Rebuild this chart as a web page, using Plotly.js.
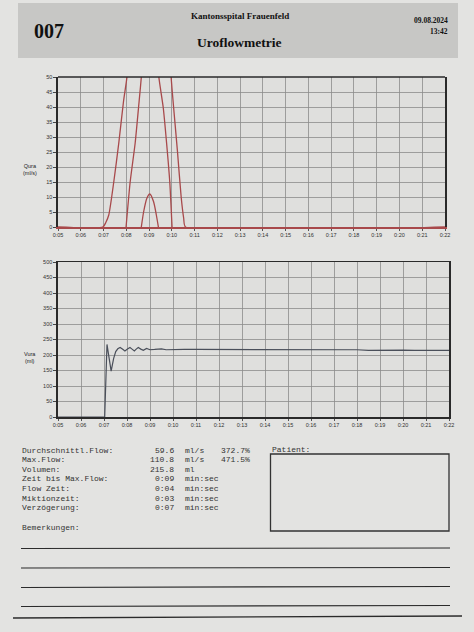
<!DOCTYPE html>
<html>
<head>
<meta charset="utf-8">
<script src="https://cdn.plot.ly/plotly-3.0.1.min.js"></script>
<style>html,body{margin:0;padding:0;background:#e3e3e1;}#chart{width:474px;height:632px;}</style>
</head>
<body>
<div id="chart"></div>
<script>
// ---- data ----
const timeTicks = [5,6,7,8,9,10,11,12,13,14,15,16,17,18,19,20,21,22];
const timeLabels = ["0:05","0:06","0:07","0:08","0:09","0:10","0:11","0:12","0:13","0:14","0:15","0:16","0:17","0:18","0:19","0:20","0:21","0:22"];

// flow (ml/s) segments as printed (display range 0..50, the rest is clipped)
const flowRiseT = [5, 6.97, 7.1, 7.23, 7.45, 7.67, 7.88, 8.03, 8.08];
const flowRiseV = [0, 0, 1.5, 4, 15, 28, 42, 50, 56];
const flowSecondT = [7.99, 8.17, 8.39, 8.54, 8.66, 8.7];
const flowSecondV = [0, 15, 28, 40, 50, 56];
const flowHumpT = [8.66, 8.76, 8.9, 9.03, 9.2, 9.32, 9.41];
const flowHumpV = [0, 5, 9.5, 11, 8.4, 4, 0];
const flowFallT = [9.4, 9.43, 9.62, 9.77, 9.91, 10.01];
const flowFallV = [56, 50, 40, 28, 15, 0];
const flowLastT = [9.95, 9.97, 10.1, 10.25, 10.41, 10.52, 10.6, 22];
const flowLastV = [56, 50, 38, 25, 10, 3, 0, 0];

// volume (ml)
const volT = [5, 7.03, 7.13, 7.2, 7.31, 7.42, 7.51, 7.6, 7.7, 7.8, 7.91, 8.02, 8.13, 8.22, 8.32, 8.4, 8.49, 8.6, 8.71, 8.85, 9.0, 9.2, 9.5, 9.7, 10, 10.5, 11, 12, 13, 14, 15, 16, 17, 18, 18.5, 19, 19.5, 20, 20.5, 21, 22];
const volV = [0, 0, 234, 205, 148, 189, 211, 220, 224, 219, 213, 219, 224, 219, 213, 219, 224, 219, 215, 221, 217, 218, 220, 217, 218, 218, 218, 218, 217, 217, 217, 218, 217, 217, 215, 216, 215, 216, 215, 215, 215];

// report text
const statLabels = ["Durchschnittl.Flow:", "Max.Flow:", "Volumen:", "Zeit bis Max.Flow:", "Flow Zeit:", "Miktionzeit:", "Verzögerung:"];
const statValues = ["59.6", "110.8", "215.8", "0:09", "0:04", "0:03", "0:07"];
const statUnits = ["ml/s", "ml/s", "ml", "min:sec", "min:sec", "min:sec", "min:sec"];
const statPercents = ["372.7%", "471.5%", "", "", "", "", ""];

// ---- helpers ----
const W = 474, H = 632;
const px = x => x / W;
const py = y => 1 - y / H;

function seg(t, v) { return {t, v}; }
const segs = [seg(flowRiseT, flowRiseV), seg(flowSecondT, flowSecondV), seg(flowHumpT, flowHumpV), seg(flowFallT, flowFallV), seg(flowLastT, flowLastV)];
let fx = [], fy = [];
segs.forEach((s, i) => { if (i) { fx.push(null); fy.push(null); } fx = fx.concat(s.t); fy = fy.concat(s.v); });

const flowColor = "#a8494b";
const traces = [
  {x: fx, y: fy, xaxis: "x", yaxis: "y", mode: "lines", connectgaps: false,
   line: {color: flowColor, width: 1.3, shape: "spline", smoothing: 0.6}, hoverinfo: "none"},
  {x: volT, y: volV, xaxis: "x2", yaxis: "y2", mode: "lines",
   line: {color: "#4a4f5a", width: 1.2}, hoverinfo: "none"}
];

const tickFont = {family: "Liberation Sans, Arial, sans-serif", size: 5.5, color: "#333"};
const gridColor = "#8c8c8c";
function xax(domain, anchor, lineColor) {
  return {domain, anchor, range: [5, 22], tickvals: timeTicks, ticktext: timeLabels,
    showgrid: true, gridcolor: gridColor, gridwidth: 0.8, zeroline: false,
    showline: true, linecolor: lineColor, linewidth: 1.5, mirror: false,
    ticks: "outside", ticklen: 2, tickcolor: "#555", tickfont: tickFont, layer: "below traces"};
}
function yax(domain, anchor, range, dtick) {
  return {domain, anchor, range, dtick, tick0: 0,
    showgrid: true, gridcolor: gridColor, gridwidth: 0.8, zeroline: false,
    showline: true, linecolor: "#2a2a2a", linewidth: 1.6, mirror: true,
    ticks: "outside", ticklen: 3, tickcolor: "#444", tickfont: tickFont, layer: "below traces"};
}

const serif = "Liberation Serif, Times New Roman, serif";
const mono = "Liberation Mono, Courier New, monospace";
const annotations = [
  {text: "<b>007</b>", x: px(33), y: py(31), xanchor: "left", yanchor: "middle", font: {family: serif, size: 20, color: "#111"}},
  {text: "<b>Kantonsspital Frauenfeld</b>", x: px(240), y: py(16), xanchor: "center", yanchor: "middle", font: {family: serif, size: 9, color: "#111"}},
  {text: "<b>Uroflowmetrie</b>", x: px(239), y: py(42), xanchor: "center", yanchor: "middle", font: {family: serif, size: 13.5, color: "#111"}},
  {text: "<b>09.08.2024</b>", x: px(449), y: py(20.5), xanchor: "right", yanchor: "middle", font: {family: serif, size: 7.5, color: "#111"}},
  {text: "<b>13:42</b>", x: px(449), y: py(31.5), xanchor: "right", yanchor: "middle", font: {family: serif, size: 7.5, color: "#111"}},
  {text: "Qura<br>(ml/s)", x: px(30), y: py(169), xanchor: "center", yanchor: "middle", font: {family: "Liberation Sans, Arial, sans-serif", size: 5.5, color: "#222"}},
  {text: "Vura<br>(ml)", x: px(30), y: py(357), xanchor: "center", yanchor: "middle", font: {family: "Liberation Sans, Arial, sans-serif", size: 5.5, color: "#222"}},
  {text: "Patient:", x: px(270.5), y: py(449.5), xanchor: "left", yanchor: "middle", font: {family: mono, size: 8, color: "#333"}},
  {text: "Bemerkungen:", x: px(21), y: py(527), xanchor: "left", yanchor: "middle", font: {family: mono, size: 8, color: "#333"}}
];
statLabels.forEach((lab, i) => {
  const yy = py(450 + 9.6 * i);
  annotations.push({text: lab, x: px(20.5), y: yy, xanchor: "left", yanchor: "middle", font: {family: mono, size: 8, color: "#333"}});
  annotations.push({text: statValues[i], x: px(175), y: yy, xanchor: "right", yanchor: "middle", font: {family: mono, size: 8, color: "#333"}});
  annotations.push({text: statUnits[i], x: px(183.5), y: yy, xanchor: "left", yanchor: "middle", font: {family: mono, size: 8, color: "#333"}});
  if (statPercents[i]) annotations.push({text: statPercents[i], x: px(251), y: yy, xanchor: "right", yanchor: "middle", font: {family: mono, size: 8, color: "#333"}});
});
annotations.forEach(a => { a.xref = "paper"; a.yref = "paper"; a.showarrow = false; a.borderpad = 0; });

const shapes = [
  {type: "rect", xref: "paper", yref: "paper", x0: px(18), x1: px(458), y0: py(58), y1: py(3), fillcolor: "#c7c7c5", line: {width: 0}, layer: "below"},
  {type: "line", xref: "x domain", yref: "y domain", x0: 0, x1: 1, y0: 1, y1: 1, line: {color: "#2a2a2a", width: 1.6}},
  {type: "rect", xref: "paper", yref: "paper", x0: px(270.5), x1: px(449), y0: py(531), y1: py(454), line: {color: "#333", width: 1.3}},
  {type: "line", xref: "paper", yref: "paper", x0: px(21), x1: px(450), y0: py(548.5), y1: py(548), line: {color: "#2b2b2b", width: 1.2}},
  {type: "line", xref: "paper", yref: "paper", x0: px(21), x1: px(450), y0: py(568), y1: py(567.5), line: {color: "#2b2b2b", width: 1.2}},
  {type: "line", xref: "paper", yref: "paper", x0: px(21), x1: px(450), y0: py(587.5), y1: py(586.5), line: {color: "#2b2b2b", width: 1.2}},
  {type: "line", xref: "paper", yref: "paper", x0: px(21), x1: px(450), y0: py(606.5), y1: py(605.5), line: {color: "#2b2b2b", width: 1.2}},
  {type: "line", xref: "paper", yref: "paper", x0: px(13), x1: px(462), y0: py(618), y1: py(616), line: {color: "#2b2b2b", width: 1.3}}
];

const layout = {
  width: W, height: H, margin: {l: 0, r: 0, t: 0, b: 0},
  paper_bgcolor: "#e3e3e1", plot_bgcolor: "#dfdfdd", showlegend: false,
  xaxis: xax([px(58), px(445)], "y", flowColor),
  yaxis: yax([py(227), py(77)], "x", [0, 50], 5),
  xaxis2: xax([px(58), px(449)], "y2", "#2a2a2a"),
  yaxis2: yax([py(417), py(262)], "x2", [0, 500], 50),
  annotations, shapes
};
layout.xaxis2.mirror = true;

Plotly.newPlot("chart", traces, layout, {staticPlot: true, displayModeBar: false});
</script>
</body>
</html>
